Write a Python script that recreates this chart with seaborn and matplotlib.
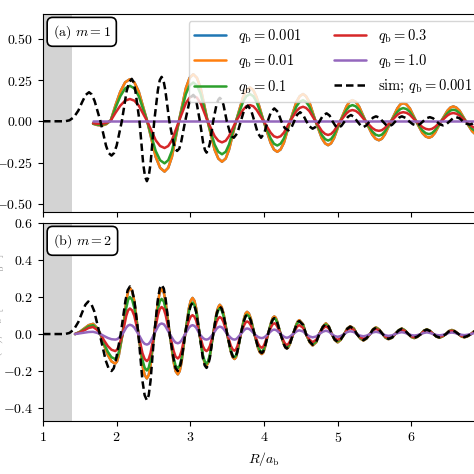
import matplotlib
matplotlib.use("Agg")
import matplotlib.pyplot as plt
import seaborn as sns

# ---------------- panel (a): m = 1 ----------------
# radius grid shared by the theory curves (they oscillate in phase)
top_r = [1.68, 1.74, 1.80, 1.86, 1.92, 1.985, 2.05, 2.115, 2.18,
         2.24, 2.30, 2.415, 2.53, 2.59, 2.65,
         2.70, 2.75, 2.845, 2.94, 2.99, 3.04,
         3.09, 3.14, 3.235, 3.33, 3.38, 3.43,
         3.48, 3.525, 3.62, 3.715, 3.76, 3.81,
         3.855, 3.90, 3.995, 4.09, 4.135, 4.18,
         4.225, 4.27, 4.355, 4.44, 4.485, 4.53,
         4.57, 4.615, 4.70, 4.785, 4.83, 4.87,
         4.91, 4.95, 5.035, 5.12, 5.16, 5.20,
         5.245, 5.29, 5.38, 5.47, 5.515, 5.56,
         5.60, 5.64, 5.725, 5.81, 5.85, 5.89,
         5.935, 5.98, 6.065, 6.15, 6.195, 6.24,
         6.28, 6.32, 6.405, 6.49, 6.53, 6.57,
         6.61, 6.655, 6.74, 6.825, 6.87, 6.91,
         6.955, 7.00]

top_q001 = [-0.015, -0.023, -0.026, -0.017, 0.005, 0.098, 0.180, 0.236, 0.255,
            0.236, 0.180, 0.0, -0.216, -0.282, -0.305,
            -0.282, -0.216, 0.0, 0.201, 0.263, 0.285,
            0.263, 0.201, 0.0, -0.173, -0.226, -0.245,
            -0.226, -0.173, 0.0, 0.145, 0.189, 0.205,
            0.189, 0.145, 0.0, -0.131, -0.171, -0.185,
            -0.171, -0.131, 0.0, 0.117, 0.152, 0.165,
            0.152, 0.117, 0.0, -0.103, -0.134, -0.145,
            -0.134, -0.103, 0.0, 0.090, 0.118, 0.128,
            0.118, 0.090, 0.0, -0.081, -0.106, -0.115,
            -0.106, -0.081, 0.0, 0.078, 0.102, 0.110,
            0.102, 0.078, 0.0, -0.071, -0.092, -0.100,
            -0.092, -0.071, 0.0, 0.064, 0.083, 0.090,
            0.083, 0.064, 0.0, -0.060, -0.079, -0.085,
            -0.079, -0.060]
# q_b = 0.001 lies exactly under q_b = 0.01 in the figure
top_q0001 = list(top_q001)

top_q01 = [-0.014, -0.020, -0.022, -0.014, 0.005, 0.082, 0.152, 0.199, 0.215,
           0.199, 0.152, 0.0, -0.180, -0.236, -0.255,
           -0.236, -0.180, 0.0, 0.166, 0.217, 0.235,
           0.217, 0.166, 0.0, -0.141, -0.185, -0.200,
           -0.185, -0.141, 0.0, 0.117, 0.152, 0.165,
           0.152, 0.117, 0.0, -0.104, -0.136, -0.147,
           -0.136, -0.104, 0.0, 0.090, 0.118, 0.128,
           0.118, 0.090, 0.0, -0.083, -0.108, -0.117,
           -0.108, -0.083, 0.0, 0.069, 0.091, 0.098,
           0.091, 0.069, 0.0, -0.062, -0.081, -0.088,
           -0.081, -0.062, 0.0, 0.057, 0.074, 0.080,
           0.074, 0.057, 0.0, -0.055, -0.072, -0.078,
           -0.072, -0.055, 0.0, 0.049, 0.065, 0.070,
           0.065, 0.049, 0.0, -0.046, -0.060, -0.065,
           -0.060, -0.046]

top_q3 = [-0.012, -0.015, -0.016, -0.010, 0.004, 0.052, 0.095, 0.125, 0.135,
          0.125, 0.095, 0.0, -0.115, -0.150, -0.162,
          -0.150, -0.115, 0.0, 0.110, 0.143, 0.155,
          0.143, 0.110, 0.0, -0.090, -0.118, -0.128,
          -0.118, -0.090, 0.0, 0.069, 0.091, 0.098,
          0.091, 0.069, 0.0, -0.069, -0.091, -0.098,
          -0.091, -0.069, 0.0, 0.062, 0.081, 0.088,
          0.081, 0.062, 0.0, -0.059, -0.077, -0.083,
          -0.077, -0.059, 0.0, 0.048, 0.063, 0.068,
          0.063, 0.048, 0.0, -0.041, -0.054, -0.058,
          -0.054, -0.041, 0.0, 0.039, 0.051, 0.055,
          0.051, 0.039, 0.0, -0.035, -0.046, -0.050,
          -0.046, -0.035, 0.0, 0.035, 0.046, 0.050,
          0.046, 0.035, 0.0, -0.032, -0.042, -0.045,
          -0.042, -0.032]

top_r_q10 = [1.68, 7.00]
top_q10 = [0.0, 0.0]

top_r_sim = [1.00, 1.30, 1.36, 1.42, 1.48, 1.53, 1.58, 1.625,
             1.66, 1.70, 1.78, 1.855, 1.89, 1.93,
             1.965, 2.00, 2.07, 2.135, 2.17, 2.205,
             2.23, 2.255, 2.31, 2.36, 2.385, 2.41,
             2.435, 2.46, 2.51, 2.56, 2.585, 2.61,
             2.635, 2.66, 2.715, 2.77, 2.795, 2.82,
             2.85, 2.875, 2.93, 2.985, 3.01, 3.04,
             3.06, 3.085, 3.13, 3.175, 3.20, 3.22,
             3.24, 3.265, 3.31, 3.355, 3.38, 3.40,
             3.425, 3.45, 3.495, 3.54, 3.565, 3.59,
             3.64, 3.685, 3.73, 3.78,
             3.825, 3.87, 3.915, 3.96,
             4.005, 4.05, 4.095, 4.14,
             4.19, 4.235, 4.28, 4.33,
             4.37, 4.41, 4.45, 4.49,
             4.53, 4.575, 4.62, 4.66,
             4.71, 4.755, 4.80, 4.85,
             4.89, 4.93, 4.97, 5.01,
             5.05, 5.095, 5.14, 5.18,
             5.22, 5.265, 5.31, 5.35,
             5.39, 5.435, 5.48, 5.52,
             5.565, 5.61, 5.655, 5.70,
             5.74, 5.785, 5.83, 5.87,
             5.92, 5.97, 6.02, 6.07,
             6.115, 6.16, 6.205, 6.25,
             6.295, 6.34, 6.385, 6.43,
             6.475, 6.52, 6.565, 6.61,
             6.655, 6.70, 6.745, 6.79,
             6.835, 6.88, 6.925, 6.97]
top_sim = [0.0, 0.0, 0.006, 0.025, 0.065, 0.115, 0.160, 0.176,
           0.163, 0.124, 0.0, -0.147, -0.192, -0.208,
           -0.192, -0.147, 0.0, 0.182, 0.237, 0.257,
           0.237, 0.182, 0.0, -0.257, -0.335, -0.363,
           -0.335, -0.257, 0.0, 0.190, 0.249, 0.269,
           0.249, 0.190, 0.0, -0.127, -0.166, -0.180,
           -0.166, -0.127, 0.0, 0.113, 0.148, 0.160,
           0.148, 0.113, 0.0, -0.134, -0.176, -0.190,
           -0.176, -0.134, 0.0, 0.100, 0.131, 0.142,
           0.131, 0.100, 0.0, -0.071, -0.092, -0.100,
           -0.071, 0.0, 0.067, 0.095,
           0.067, 0.0, -0.071, -0.100,
           -0.071, 0.0, 0.056, 0.078,
           0.056, 0.0, -0.040, -0.055,
           -0.040, 0.0, 0.040, 0.055,
           0.040, 0.0, -0.032, -0.045,
           -0.032, 0.0, 0.035, 0.048,
           0.035, 0.0, -0.028, -0.040,
           -0.028, 0.0, 0.027, 0.038,
           0.027, 0.0, -0.025, -0.035,
           -0.025, 0.0, 0.022, 0.030,
           0.022, 0.0, -0.021, -0.030,
           -0.021, 0.0, 0.021, 0.030,
           0.021, 0.0, -0.018, -0.025,
           -0.018, 0.0, 0.018, 0.025,
           0.018, 0.0, -0.018, -0.025,
           -0.018, 0.0, 0.018, 0.025,
           0.018, 0.0, -0.014, -0.020,
           -0.014, 0.0, 0.014, 0.020]

# ---------------- panel (b): m = 2 ----------------
bot_r = [1.435, 1.50, 1.56, 1.62, 1.68,
         1.73, 1.78, 1.83, 1.88, 1.93, 1.98,
         2.005, 2.03, 2.08, 2.13, 2.155, 2.18,
         2.21, 2.24, 2.295, 2.35, 2.38, 2.41,
         2.435, 2.46, 2.51, 2.56, 2.585, 2.61,
         2.64, 2.665, 2.72, 2.775, 2.80, 2.83,
         2.855, 2.88, 2.93, 2.98, 3.005, 3.03,
         3.055, 3.08, 3.125, 3.17, 3.195, 3.22,
         3.24, 3.265, 3.31, 3.355, 3.38, 3.40,
         3.425, 3.45, 3.50, 3.55, 3.575, 3.60,
         3.62, 3.64, 3.685, 3.73, 3.75, 3.77,
         3.795, 3.82, 3.87, 3.92, 3.945, 3.97,
         3.99, 4.01, 4.055, 4.10, 4.12, 4.14,
         4.16, 4.18, 4.225, 4.27, 4.29, 4.31,
         4.33, 4.35, 4.395, 4.44, 4.46, 4.48,
         4.53, 4.57, 4.62, 4.66,
         4.71, 4.75, 4.80, 4.84,
         4.88, 4.92, 4.96, 5.00,
         5.04, 5.09, 5.13, 5.17,
         5.22, 5.26, 5.31, 5.35,
         5.39, 5.44, 5.48, 5.52,
         5.56, 5.61, 5.65, 5.69,
         5.74, 5.78, 5.83, 5.87,
         5.91, 5.96, 6.00, 6.04,
         6.08, 6.13, 6.17, 6.21,
         6.25, 6.30, 6.34, 6.38,
         6.42, 6.47, 6.51, 6.55,
         6.59, 6.64, 6.68, 6.72,
         6.76, 6.81, 6.85, 6.89,
         7.00]

bot_q001 = [0.0, 0.012, 0.030, 0.048, 0.055,
            0.035, 0.0, -0.061, -0.113, -0.148, -0.160,
            -0.148, -0.113, 0.0, 0.177, 0.231, 0.250,
            0.231, 0.177, 0.0, -0.170, -0.222, -0.240,
            -0.222, -0.170, 0.0, 0.172, 0.225, 0.243,
            0.225, 0.172, 0.0, -0.154, -0.201, -0.218,
            -0.201, -0.154, 0.0, 0.138, 0.180, 0.195,
            0.180, 0.138, 0.0, -0.120, -0.157, -0.170,
            -0.157, -0.120, 0.0, 0.112, 0.146, 0.158,
            0.146, 0.112, 0.0, -0.095, -0.125, -0.135,
            -0.125, -0.095, 0.0, 0.085, 0.111, 0.120,
            0.111, 0.085, 0.0, -0.076, -0.100, -0.108,
            -0.100, -0.076, 0.0, 0.067, 0.088, 0.095,
            0.088, 0.067, 0.0, -0.055, -0.072, -0.078,
            -0.072, -0.055, 0.0, 0.053, 0.069, 0.075,
            0.053, 0.0, -0.044, -0.062,
            -0.044, 0.0, 0.041, 0.058,
            0.041, 0.0, -0.032, -0.045,
            -0.032, 0.0, 0.030, 0.042,
            0.030, 0.0, -0.025, -0.035,
            -0.025, 0.0, 0.026, 0.036,
            0.026, 0.0, -0.020, -0.028,
            -0.020, 0.0, 0.021, 0.030,
            0.021, 0.0, -0.016, -0.022,
            -0.016, 0.0, 0.018, 0.026,
            0.018, 0.0, -0.014, -0.020,
            -0.014, 0.0, 0.016, 0.022,
            0.016, 0.0, -0.013, -0.018,
            -0.013, 0.0, 0.014, 0.020,
            -0.004]
bot_q0001 = list(bot_q001)

bot_q01 = [0.0, 0.010, 0.026, 0.042, 0.048,
           0.030, 0.0, -0.052, -0.096, -0.125, -0.135,
           -0.125, -0.096, 0.0, 0.141, 0.185, 0.200,
           0.185, 0.141, 0.0, -0.139, -0.182, -0.197,
           -0.182, -0.139, 0.0, 0.134, 0.176, 0.190,
           0.176, 0.134, 0.0, -0.131, -0.171, -0.185,
           -0.171, -0.131, 0.0, 0.120, 0.157, 0.170,
           0.157, 0.120, 0.0, -0.113, -0.148, -0.160,
           -0.148, -0.113, 0.0, 0.099, 0.129, 0.140,
           0.129, 0.099, 0.0, -0.088, -0.116, -0.125,
           -0.116, -0.088, 0.0, 0.074, 0.097, 0.105,
           0.097, 0.074, 0.0, -0.067, -0.088, -0.095,
           -0.088, -0.067, 0.0, 0.060, 0.079, 0.085,
           0.079, 0.060, 0.0, -0.049, -0.065, -0.070,
           -0.065, -0.049, 0.0, 0.048, 0.063, 0.068,
           0.048, 0.0, -0.040, -0.056,
           -0.040, 0.0, 0.037, 0.052,
           0.037, 0.0, -0.028, -0.040,
           -0.028, 0.0, 0.027, 0.038,
           0.027, 0.0, -0.023, -0.032,
           -0.023, 0.0, 0.023, 0.033,
           0.023, 0.0, -0.018, -0.026,
           -0.018, 0.0, 0.020, 0.028,
           0.020, 0.0, -0.014, -0.020,
           -0.014, 0.0, 0.017, 0.024,
           0.017, 0.0, -0.013, -0.018,
           -0.013, 0.0, 0.014, 0.020,
           0.014, 0.0, -0.011, -0.016,
           -0.011, 0.0, 0.013, 0.018,
           -0.004]

bot_q3 = [0.0, 0.008, 0.020, 0.033, 0.038,
          0.024, 0.0, -0.035, -0.065, -0.085, -0.092,
          -0.085, -0.065, 0.0, 0.098, 0.128, 0.138,
          0.128, 0.098, 0.0, -0.103, -0.135, -0.146,
          -0.135, -0.103, 0.0, 0.103, 0.135, 0.146,
          0.135, 0.103, 0.0, -0.093, -0.122, -0.132,
          -0.122, -0.093, 0.0, 0.072, 0.094, 0.102,
          0.094, 0.072, 0.0, -0.065, -0.085, -0.092,
          -0.085, -0.065, 0.0, 0.065, 0.085, 0.092,
          0.085, 0.065, 0.0, -0.064, -0.083, -0.090,
          -0.083, -0.064, 0.0, 0.048, 0.063, 0.068,
          0.063, 0.048, 0.0, -0.052, -0.068, -0.074,
          -0.068, -0.052, 0.0, 0.041, 0.054, 0.058,
          0.054, 0.041, 0.0, -0.041, -0.054, -0.058,
          -0.054, -0.041, 0.0, 0.034, 0.044, 0.048,
          0.034, 0.0, -0.031, -0.044,
          -0.031, 0.0, 0.030, 0.042,
          0.030, 0.0, -0.023, -0.032,
          -0.023, 0.0, 0.023, 0.032,
          0.023, 0.0, -0.018, -0.026,
          -0.018, 0.0, 0.020, 0.028,
          0.020, 0.0, -0.015, -0.021,
          -0.015, 0.0, 0.017, 0.024,
          0.017, 0.0, -0.012, -0.017,
          -0.012, 0.0, 0.015, 0.021,
          0.015, 0.0, -0.011, -0.015,
          -0.011, 0.0, 0.013, 0.018,
          0.013, 0.0, -0.010, -0.014,
          -0.010, 0.0, 0.011, 0.016,
          -0.003]

bot_q10 = [0.0, 0.004, 0.008, 0.011, 0.012,
           0.007, 0.0, -0.011, -0.021, -0.028, -0.030,
           -0.028, -0.021, 0.0, 0.035, 0.046, 0.050,
           0.046, 0.035, 0.0, -0.040, -0.053, -0.057,
           -0.053, -0.040, 0.0, 0.040, 0.053, 0.057,
           0.053, 0.040, 0.0, -0.035, -0.046, -0.050,
           -0.046, -0.035, 0.0, 0.034, 0.044, 0.048,
           0.044, 0.034, 0.0, -0.021, -0.028, -0.030,
           -0.028, -0.021, 0.0, 0.028, 0.037, 0.040,
           0.037, 0.028, 0.0, -0.021, -0.028, -0.030,
           -0.028, -0.021, 0.0, 0.021, 0.028, 0.030,
           0.028, 0.021, 0.0, -0.016, -0.020, -0.022,
           -0.020, -0.016, 0.0, 0.017, 0.022, 0.024,
           0.022, 0.017, 0.0, -0.014, -0.018, -0.020,
           -0.018, -0.014, 0.0, 0.014, 0.018, 0.020,
           0.014, 0.0, -0.013, -0.018,
           -0.013, 0.0, 0.013, 0.018,
           0.013, 0.0, -0.011, -0.015,
           -0.011, 0.0, 0.011, 0.015,
           0.011, 0.0, -0.009, -0.012,
           -0.009, 0.0, 0.009, 0.012,
           0.009, 0.0, -0.007, -0.010,
           -0.007, 0.0, 0.007, 0.010,
           0.007, 0.0, -0.006, -0.008,
           -0.006, 0.0, 0.006, 0.009,
           0.006, 0.0, -0.005, -0.007,
           -0.005, 0.0, 0.006, 0.008,
           0.006, 0.0, -0.004, -0.006,
           -0.004, 0.0, 0.005, 0.007,
           -0.002]

# simulation: own points up to the first big peak, then the theory grid
bot_r_sim = [1.00, 1.30, 1.36, 1.42, 1.48, 1.53, 1.575, 1.615,
             1.655, 1.695, 1.77, 1.85, 1.89, 1.93,
             1.96, 1.99, 2.055, 2.12, 2.15, 2.18] + [r for r in bot_r if r > 2.18]
bot_sim = [0.0, 0.0, 0.006, 0.025, 0.065, 0.115, 0.158, 0.176,
           0.163, 0.124, 0.0, -0.141, -0.185, -0.200,
           -0.185, -0.141, 0.0, 0.182, 0.237, 0.257,
           0.237, 0.182, 0.0, -0.253, -0.331, -0.358,
           -0.331, -0.253, 0.0, 0.188, 0.246, 0.266,
           0.246, 0.188, 0.0, -0.141, -0.185, -0.200,
           -0.185, -0.141, 0.0, 0.118, 0.154, 0.167,
           0.154, 0.118, 0.0, -0.129, -0.169, -0.183,
           -0.169, -0.129, 0.0, 0.105, 0.138, 0.149,
           0.138, 0.105, 0.0, -0.092, -0.120, -0.130,
           -0.120, -0.092, 0.0, 0.074, 0.096, 0.104,
           0.096, 0.074, 0.0, -0.073, -0.095, -0.103,
           -0.095, -0.073, 0.0, 0.061, 0.079, 0.086,
           0.079, 0.061, 0.0, -0.055, -0.072, -0.078,
           -0.072, -0.055, 0.0, 0.049, 0.065, 0.070,
           0.050, 0.0, -0.041, -0.058,
           -0.041, 0.0, 0.039, 0.055,
           0.039, 0.0, -0.030, -0.042,
           -0.030, 0.0, 0.028, 0.040,
           0.028, 0.0, -0.023, -0.033,
           -0.023, 0.0, 0.024, 0.034,
           0.024, 0.0, -0.018, -0.026,
           -0.018, 0.0, 0.020, 0.028,
           0.020, 0.0, -0.014, -0.020,
           -0.014, 0.0, 0.017, 0.024,
           0.017, 0.0, -0.013, -0.018,
           -0.013, 0.0, 0.014, 0.020,
           0.014, 0.0, -0.011, -0.016,
           -0.011, 0.0, 0.013, 0.018,
           -0.003]

q_labels = [r"$q_{\rm b}=0.001$", r"$q_{\rm b}=0.01$", r"$q_{\rm b}=0.1$",
            r"$q_{\rm b}=0.3$", r"$q_{\rm b}=1.0$"]
sim_label = r"sim; $q_{\rm b}=0.001$"

sns.set_style("ticks")
plt.rcParams.update({
    "font.family": "cmr10",
    "mathtext.fontset": "cm",
    "axes.formatter.use_mathtext": True,
    "font.size": 10,
    "axes.edgecolor": "black",
    "xtick.color": "black",
    "ytick.color": "black",
    "text.color": "black",
    "axes.labelcolor": "black",
})
pal = sns.color_palette("tab10")
dash = (0, (3.0, 1.6))


def draw(ax, r, vals, color, label=None, ls="-"):
    sns.lineplot(x=r, y=vals, ax=ax, color=color, linewidth=1.8,
                 linestyle=ls, label=label, sort=False, estimator=None)


fig = plt.figure(figsize=(4.74, 4.74), dpi=100)
ax1 = fig.add_axes([0.0907, 0.5527, 0.9325, 0.4177])
ax2 = fig.add_axes([0.0907, 0.1118, 0.9325, 0.4177])

for ax in (ax1, ax2):
    ax.axvspan(1.0, 1.4, color="#d3d3d3", lw=0, zorder=0)

# panel (a)
draw(ax1, top_r, top_q0001, pal[0], q_labels[0])
draw(ax1, top_r, top_q001, pal[1], q_labels[1])
draw(ax1, top_r, top_q01, pal[2], q_labels[2])
draw(ax1, top_r, top_q3, pal[3], q_labels[3])
draw(ax1, top_r_q10, top_q10, pal[4], q_labels[4])
draw(ax1, top_r_sim, top_sim, "black", sim_label, ls=dash)

# panel (b)
draw(ax2, bot_r, bot_q0001, pal[0])
draw(ax2, bot_r, bot_q001, pal[1])
draw(ax2, bot_r, bot_q01, pal[2])
draw(ax2, bot_r, bot_q3, pal[3])
draw(ax2, bot_r, bot_q10, pal[4])
draw(ax2, bot_r_sim, bot_sim, "black", ls=dash)

ax1.set_xlim(1, 7)
ax1.set_ylim(-0.55, 0.65)
ax1.set_yticks([-0.5, -0.25, 0.0, 0.25, 0.5])
ax1.set_xticks([1, 2, 3, 4, 5, 6])
ax1.tick_params(labelbottom=False)
ax1.set_xlabel("")
ax1.set_ylabel("")

ax2.set_xlim(1, 7)
ax2.set_ylim(-0.47, 0.6)
ax2.set_yticks([-0.4, -0.2, 0.0, 0.2, 0.4, 0.6])
ax2.set_xticks([1, 2, 3, 4, 5, 6])
ax2.set_xlabel(r"$R/a_{\rm b}$")
ax2.set_ylabel(r"$\mathrm{Re}\,\delta n(x)/n_{\rm b}\ [10^{-3}\,a_{\rm b}^{-3}]$",
               color="0.6")
ax2.yaxis.set_label_coords(-0.082, 0.5)

box = dict(boxstyle="round,pad=0.4", fc="white", ec="black", lw=1.2)
ax1.text(0.022, 0.955, r"(a) $m=1$", transform=ax1.transAxes,
         ha="left", va="top", bbox=box)
ax2.text(0.022, 0.955, r"(b) $m=2$", transform=ax2.transAxes,
         ha="left", va="top", bbox=box)

ax1.legend(ncol=2, loc="upper right", fontsize=10.5, handlelength=2.2,
           columnspacing=2.2, borderaxespad=0.5)

fig.savefig("out.png", dpi=100)
